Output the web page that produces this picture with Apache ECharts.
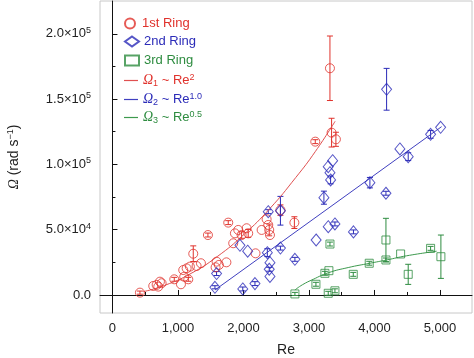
<!DOCTYPE html>
<html><head><meta charset="utf-8">
<script src="https://cdn.jsdelivr.net/npm/echarts@6/dist/echarts.min.js"></script>
<style>html,body{margin:0;padding:0;background:#fff}#c{width:474px;height:358px}</style>
</head><body><div id="c"></div>
<script>
// [Re, Omega, error]
const ring1 = [
  [420,1800,1200],[623,6900,0],[675,7700,0],[700,6400,0],[725,10200,0],[751,9000,0],
  [944,12000,1500],[1046,8200,0],[1096,14000,0],[1158,12000,1500],[1081,19100,0],[1133,20400,0],
  [1183,21700,0],[1285,22200,0],[1351,24300,0],[1234,31600,6000],[1458,45900,1500],[1768,55400,1500],
  [1590,25500,0],[1625,23000,0],[1575,21200,0],[1740,25000,0],[1870,47200,0],[1921,49800,0],
  [1972,45900,2500],[2073,47200,3000],[2049,51100,0],[1844,39600,0],[2185,31900,0],[2278,49800,0],
  [2354,58000,0],[2379,53600,0],[2394,49800,4500],[2405,45900,0],[2565,65000,4000],[2778,55400,4500],
  [3097,117400,1500],[3346,124300,11000],[3412,119200,5400],[3321,173600,24700]
];
const ring2 = [
  [1565,5900,1200],[1590,16400,1500],[1990,4600,1500],[2176,8700,1500],[1947,38000,0],[2065,33500,0],
  [2379,63800,1500],[2565,64500,11000],[2365,32400,3000],[2405,24700,0],[2394,19700,1500],[2405,14200,0],
  [2565,35900,1500],[2786,27300,1500],[3110,42100,0],[3229,74500,5000],[3295,52300,0],[3397,54400,1500],
  [3362,102800,0],[3295,98200,0],[3321,93600,0],[3331,88100,3000],[3680,48300,1500],[3931,86000,4000],
  [4176,77900,1500],[4186,157500,16000],[4389,111800,0],[4516,105900,3000],[4858,123000,3000],[5011,128400,0]
];
const ring3 = [
  [2786,800,1200],[3107,8200,1500],[3295,1300,1500],[3397,3200,1500],[3244,16600,1500],[3305,18600,0],
  [3321,39000,1500],[3677,15800,1500],[3921,24300,1500],[4176,26800,1500],[4176,42100,16600],
  [4400,31400,0],[4516,15800,7700],[4858,35700,1500],[5015,29300,16600]
];
const fit1 = [[470,2500],[800,7400],[1200,16500],[1600,29400],[2000,46000],[2400,66000],[2800,90000],[3100,110000],[3400,133000]];
const fit2 = [[1565,3800],[5026,128900]];
const fit3 = [[2786,3800],[2900,7800],[3066,12000],[3295,17000],[3600,21000],[3931,24300],[4186,26800],[4491,30000],[4950,33500]];

const xTicks = [0,1000,2000,3000,4000,5000];
const xTickLabels = ['0','1,000','2,000','3,000','4,000','5,000'];
const xMinorTicks = [500,1500,2500,3500,4500];
const yTicks = [0,50000,100000,150000,200000];
const yTickLabels = ['{n|0.0}','{n|5.0×10}{s|4}','{n|1.0×10}{s|5}','{n|1.5×10}{s|5}','{n|2.0×10}{s|5}'];
const yMinorTicks = [25000,75000,125000,175000];

const RED = '#e0322c', BLUE = '#2b2bb8', GREEN = '#2e8c40';
const RED_L = '#e05050', BLUE_L = '#4040c0', GREEN_L = '#3d9a4e';
const FONT = 'Liberation Sans, Arial, sans-serif';

const chart = echarts.init(document.getElementById('c'), null, {renderer:'canvas'});

function errSeries(data, color){
  return {
    type:'custom', silent:true, z:2,
    data: data.filter(d => d[2] > 0),
    encode:{x:0, y:1},
    renderItem(params, api){
      const x = api.value(0), y = api.value(1), e = api.value(2);
      const t = api.coord([x, y + e]), b = api.coord([x, y - e]);
      const w = 3;
      const st = {stroke: color, lineWidth: 1};
      return {type:'group', children:[
        {type:'line', shape:{x1:t[0], y1:t[1], x2:b[0], y2:b[1]}, style:st},
        {type:'line', shape:{x1:t[0]-w, y1:t[1], x2:t[0]+w, y2:t[1]}, style:st},
        {type:'line', shape:{x1:b[0]-w, y1:b[1], x2:b[0]+w, y2:b[1]}, style:st}
      ]};
    }
  };
}

function legendRich(color){
  return {
    t:{color, fontSize:13, fontFamily:FONT},
    o:{color, fontSize:14, fontFamily:'Liberation Serif, serif', fontStyle:'italic'},
    sub:{color, fontSize:9, fontFamily:FONT, verticalAlign:'bottom', padding:[6,0,0,0]},
    sup:{color, fontSize:9, fontFamily:FONT, verticalAlign:'top', padding:[0,0,6,0]}
  };
}

const legendItems = [
  {name:'1st Ring', color:RED, top:17, fmt:'{t|1st Ring}', line:false},
  {name:'2nd Ring', color:BLUE, top:35, fmt:'{t|2nd Ring}', line:false},
  {name:'3rd Ring', color:GREEN, top:54, fmt:'{t|3rd Ring}', line:false},
  {name:'fit1', color:RED_L, top:73, fmt:'{o|Ω}{sub|1}{t| ~ Re}{sup|2}', line:true},
  {name:'fit2', color:BLUE_L, top:92, fmt:'{o|Ω}{sub|2}{t| ~ Re}{sup|1.0}', line:true},
  {name:'fit3', color:GREEN_L, top:110, fmt:'{o|Ω}{sub|3}{t| ~ Re}{sup|0.5}', line:true}
];
const textCol = {'1st Ring':RED, '2nd Ring':BLUE, '3rd Ring':GREEN, fit1:RED, fit2:BLUE, fit3:GREEN};

const option = {
  animation:false,
  backgroundColor:'#fff',
  grid:{left:100, right:2, top:1, bottom:45, show:true, borderColor:'#c8c8c8', borderWidth:1,
    outerBoundsMode:'none', containLabel:false},
  legend: legendItems.map(it => ({
    data: it.line ? [{name:it.name, icon:'rect'}] : [it.name],
    left:124, top:it.top, orient:'vertical', padding:0,
    itemWidth:14, itemHeight: it.line ? 1.2 : 10, itemGap:0, selectedMode:false,
    formatter: () => it.fmt,
    textStyle:{color:textCol[it.name], fontSize:13, fontFamily:FONT, rich:legendRich(textCol[it.name])}
  })),
  xAxis:[{
    type:'value', min:-190, max:5490, position:'bottom',
    axisLine:{show:true, lineStyle:{color:'#111', width:1}},
    axisTick:{show:true, inside:true, length:5, lineStyle:{color:'#111'}, customValues:xTicks},
    axisLabel:{show:true, customValues:xTicks, formatter:v => xTickLabels[xTicks.indexOf(v)],
      color:'#222', fontSize:13, fontFamily:FONT, margin:9},
    splitLine:{show:false},
    name:'Re', nameLocation:'middle', nameGap:30,
    nameTextStyle:{color:'#222', fontSize:14, fontFamily:FONT}
  },{
    type:'value', min:-190, max:5490, position:'bottom',
    axisLine:{show:false},
    axisTick:{show:true, inside:true, length:3, lineStyle:{color:'#111'}, customValues:xMinorTicks},
    axisLabel:{show:false}, splitLine:{show:false}
  }],
  yAxis:[{
    type:'value', min:-13800, max:225100, position:'left',
    axisLine:{show:true, lineStyle:{color:'#111', width:1}},
    axisTick:{show:true, inside:true, length:5, lineStyle:{color:'#111'}, customValues:yTicks},
    axisLabel:{show:true, customValues:yTicks, formatter:v => yTickLabels[yTicks.indexOf(v)],
      margin:9, rich:{
        n:{color:'#222', fontSize:13, fontFamily:FONT},
        s:{color:'#222', fontSize:9, fontFamily:FONT, verticalAlign:'top', padding:[0,0,7,0]}
      }},
    splitLine:{show:false},
    name:'{o|Ω} (rad s{s|−1})', nameLocation:'middle', nameGap:78, nameRotate:90,
    nameTextStyle:{color:'#222', fontSize:14, fontFamily:FONT, rich:{
      o:{color:'#222', fontSize:14, fontFamily:'Liberation Serif, serif', fontStyle:'italic'},
      s:{color:'#222', fontSize:9, fontFamily:FONT, verticalAlign:'top', padding:[0,0,7,0]}
    }}
  },{
    type:'value', min:-13800, max:225100, position:'left',
    axisLine:{show:false},
    axisTick:{show:true, inside:true, length:3, lineStyle:{color:'#111'}, customValues:yMinorTicks},
    axisLabel:{show:false}, splitLine:{show:false}
  }],
  series:[
    errSeries(ring1, RED), errSeries(ring2, BLUE), errSeries(ring3, GREEN),
    {name:'fit1', type:'line', data:fit1, smooth:true, symbol:'none', lineStyle:{color:RED_L, width:1}, itemStyle:{color:RED_L}, z:3},
    {name:'fit2', type:'line', data:fit2, symbol:'none', lineStyle:{color:BLUE_L, width:1}, itemStyle:{color:BLUE_L}, z:3},
    {name:'fit3', type:'line', data:fit3, smooth:true, symbol:'none', lineStyle:{color:GREEN_L, width:1}, itemStyle:{color:GREEN_L}, z:3},
    {name:'1st Ring', type:'scatter', data:ring1.map(d=>[d[0],d[1]]), symbol:'circle', symbolSize:9,
      itemStyle:{color:'rgba(255,255,255,0)', borderColor:RED, borderWidth:1}, z:4},
    {name:'2nd Ring', type:'scatter', data:ring2.map(d=>[d[0],d[1]]), symbol:'diamond', symbolSize:[10,12],
      itemStyle:{color:'rgba(255,255,255,0)', borderColor:BLUE, borderWidth:1}, z:4},
    {name:'3rd Ring', type:'scatter', data:ring3.map(d=>[d[0],d[1]]), symbol:'rect', symbolSize:8,
      itemStyle:{color:'rgba(255,255,255,0)', borderColor:GREEN, borderWidth:1}, z:4}
  ]
};
chart.setOption(option);
</script></body></html>
